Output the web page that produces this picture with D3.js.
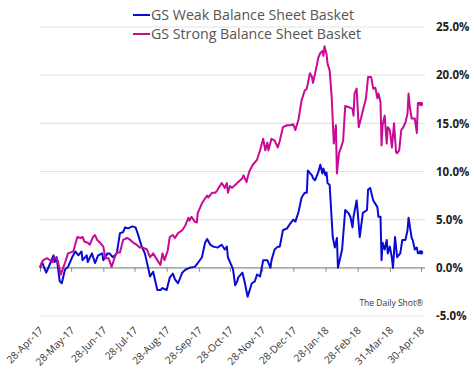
<!DOCTYPE html>
<html lang="en">
<head>
<meta charset="utf-8">
<title>GS balance sheet baskets</title>
<script src="https://cdn.jsdelivr.net/npm/d3@7/dist/d3.min.js"></script>
<style>
  body { margin: 0; background: #fff; }
  text { font-family: "Open Sans", "Liberation Sans", sans-serif; }
</style>
</head>
<body>
<script>
// values, % change since 28-Apr-17
var weak = [
  ["2017-04-28",0],["2017-04-30",0.6],["2017-05-04",-0.5],["2017-05-08",0.5],["2017-05-11",1.3],
  ["2017-05-12",0.6],["2017-05-14",1.1],["2017-05-17",-1.4],["2017-05-19",-1.6],["2017-05-22",-0.2],
  ["2017-05-25",0.1],["2017-05-29",1.1],["2017-06-01",1.7],["2017-06-04",1.3],["2017-06-07",1.7],
  ["2017-06-08",0.8],["2017-06-12",1.3],["2017-06-13",0.6],["2017-06-17",1.5],["2017-06-20",0.5],
  ["2017-06-23",1.3],["2017-06-27",1.5],["2017-06-28",0.8],["2017-07-02",1.5],["2017-07-04",1.5],
  ["2017-07-07",1.1],["2017-07-11",1.5],["2017-07-14",3.6],["2017-07-17",3.7],["2017-07-19",4.2],
  ["2017-07-22",4.1],["2017-07-26",4.3],["2017-07-29",4.2],["2017-07-31",3.6],["2017-08-04",2.2],
  ["2017-08-07",1.5],["2017-08-10",0.1],["2017-08-12",-0.9],["2017-08-15",-0.4],["2017-08-19",-2.3],
  ["2017-08-22",-2.3],["2017-08-24",-2.1],["2017-08-28",-2.3],["2017-08-31",-1.0],["2017-09-03",-0.6],
  ["2017-09-05",-1.2],["2017-09-08",-1.6],["2017-09-12",-0.5],["2017-09-15",-0.2],["2017-09-19",0],
  ["2017-09-24",0.1],["2017-09-27",0.5],["2017-10-01",1.1],["2017-10-04",2.6],["2017-10-06",3.0],
  ["2017-10-09",2.4],["2017-10-12",2.2],["2017-10-16",2.1],["2017-10-20",2.4],["2017-10-23",1.9],
  ["2017-10-25",2.2],["2017-10-26",1.1],["2017-10-30",0.1],["2017-10-31",-0.2],["2017-11-02",-1.8],
  ["2017-11-04",-1.4],["2017-11-05",-1.0],["2017-11-09",-0.5],["2017-11-11",-1.4],["2017-11-14",-3.0],
  ["2017-11-16",-2.3],["2017-11-18",-1.6],["2017-11-21",-1.4],["2017-11-23",-0.7],["2017-11-26",-0.9],
  ["2017-11-29",0.8],["2017-12-03",0.8],["2017-12-06",0],["2017-12-07",0.8],["2017-12-10",1.9],
  ["2017-12-13",2.2],["2017-12-15",2.2],["2017-12-18",3.9],["2017-12-22",4.1],["2017-12-25",4.6],
  ["2017-12-28",5.0],["2017-12-30",4.8],["2018-01-02",5.8],["2018-01-05",7.3],["2018-01-08",7.8],
  ["2018-01-10",7.8],["2018-01-11",10.1],["2018-01-15",9.6],["2018-01-16",9.3],["2018-01-18",9.1],
  ["2018-01-21",9.9],["2018-01-23",10.7],["2018-01-25",9.8],["2018-01-26",10.3],["2018-01-28",9.6],
  ["2018-01-29",9.9],["2018-01-30",8.8],["2018-02-01",8.6],["2018-02-04",3.2],["2018-02-06",2.1],
  ["2018-02-08",3.1],["2018-02-09",0],["2018-02-13",1.9],["2018-02-16",6.0],["2018-02-19",5.7],
  ["2018-02-21",5.3],["2018-02-23",4.2],["2018-02-24",5.3],["2018-02-27",7.0],["2018-02-28",5.8],
  ["2018-03-02",3.2],["2018-03-05",5.7],["2018-03-09",6.0],["2018-03-10",8.1],["2018-03-12",8.3],
  ["2018-03-15",7.0],["2018-03-19",6.3],["2018-03-20",5.3],["2018-03-22",5.3],["2018-03-23",0.8],
  ["2018-03-24",2.6],["2018-03-26",1.9],["2018-03-28",2.9],["2018-03-29",1.5],["2018-03-31",2.2],
  ["2018-04-02",1.0],["2018-04-03",0],["2018-04-05",3.2],["2018-04-07",1.1],["2018-04-10",1.5],
  ["2018-04-12",2.9],["2018-04-15",2.9],["2018-04-17",3.9],["2018-04-18",5.2],["2018-04-21",3.1],
  ["2018-04-22",2.9],["2018-04-24",1.9],["2018-04-26",2.1],["2018-04-27",1.5],["2018-04-29",1.7],
  ["2018-04-30",1.6]
];

var strong = [
  ["2017-04-28",0.1],["2017-05-01",0.8],["2017-05-05",1.0],["2017-05-10",0.6],["2017-05-12",1.1],
  ["2017-05-15",0.8],["2017-05-18",-0.7],["2017-05-22",0.5],["2017-05-25",1.5],["2017-05-30",1.7],
  ["2017-06-03",3.2],["2017-06-06",3.1],["2017-06-08",3.2],["2017-06-10",2.7],["2017-06-13",2.6],
  ["2017-06-15",2.4],["2017-06-18",3.2],["2017-06-20",3.4],["2017-06-22",2.9],["2017-06-25",2.6],
  ["2017-06-28",2.2],["2017-06-30",1.0],["2017-07-03",1.0],["2017-07-06",0.1],["2017-07-09",1.1],
  ["2017-07-11",1.6],["2017-07-14",1.6],["2017-07-17",2.9],["2017-07-21",3.1],["2017-07-24",2.9],
  ["2017-07-27",2.6],["2017-07-30",2.4],["2017-08-02",2.1],["2017-08-05",2.1],["2017-08-09",1.9],
  ["2017-08-12",1.1],["2017-08-15",1.5],["2017-08-19",0.8],["2017-08-22",0.3],["2017-08-24",1.5],
  ["2017-08-26",0.8],["2017-08-29",1.8],["2017-08-31",3.2],["2017-09-03",3.4],["2017-09-05",3.1],
  ["2017-09-08",3.6],["2017-09-12",3.9],["2017-09-15",4.4],["2017-09-18",5.2],["2017-09-19",4.9],
  ["2017-09-21",5.3],["2017-09-24",4.8],["2017-09-26",4.7],["2017-09-27",5.7],["2017-10-01",6.7],
  ["2017-10-04",7.2],["2017-10-06",7.5],["2017-10-07",7.3],["2017-10-11",7.8],["2017-10-14",7.8],
  ["2017-10-16",8.1],["2017-10-20",8.8],["2017-10-23",8.3],["2017-10-25",8.8],["2017-10-26",7.8],
  ["2017-10-28",8.5],["2017-10-30",8.3],["2017-11-02",8.6],["2017-11-05",8.9],["2017-11-09",9.3],
  ["2017-11-10",9.6],["2017-11-13",8.9],["2017-11-14",9.4],["2017-11-16",10.1],["2017-11-19",10.7],
  ["2017-11-23",11.2],["2017-11-26",12.2],["2017-11-29",13.4],["2017-12-01",12.2],["2017-12-03",13.0],
  ["2017-12-04",12.2],["2017-12-07",13.4],["2017-12-10",13.2],["2017-12-13",12.5],["2017-12-15",13.2],
  ["2017-12-18",14.6],["2017-12-22",14.8],["2017-12-25",14.8],["2017-12-28",14.9],["2017-12-30",14.3],
  ["2018-01-02",15.4],["2018-01-05",17.4],["2018-01-08",18.4],["2018-01-10",18.6],["2018-01-13",20.2],
  ["2018-01-15",19.8],["2018-01-16",19.2],["2018-01-20",21.2],["2018-01-21",21.8],["2018-01-23",22.3],
  ["2018-01-25",22.5],["2018-01-26",22.0],["2018-01-27",23.0],["2018-01-29",22.2],["2018-01-30",21.2],
  ["2018-02-01",20.5],["2018-02-03",17.7],["2018-02-05",12.9],["2018-02-07",14.8],["2018-02-08",9.8],
  ["2018-02-10",11.9],["2018-02-12",12.5],["2018-02-14",13.2],["2018-02-16",16.8],["2018-02-19",16.7],
  ["2018-02-23",16.5],["2018-02-24",15.8],["2018-02-25",18.1],["2018-02-27",18.6],["2018-03-01",14.6],
  ["2018-03-05",16.3],["2018-03-08",17.6],["2018-03-10",19.8],["2018-03-13",19.8],["2018-03-15",18.6],
  ["2018-03-17",18.7],["2018-03-19",17.6],["2018-03-20",18.1],["2018-03-22",17.2],["2018-03-23",12.7],
  ["2018-03-24",14.8],["2018-03-26",15.8],["2018-03-28",12.9],["2018-03-29",14.6],["2018-03-31",14.3],
  ["2018-04-02",12.5],["2018-04-04",15.0],["2018-04-06",12.0],["2018-04-07",11.9],["2018-04-09",12.2],
  ["2018-04-11",14.3],["2018-04-13",14.6],["2018-04-15",15.1],["2018-04-17",16.0],["2018-04-18",18.1],
  ["2018-04-19",16.9],["2018-04-21",15.5],["2018-04-24",15.5],["2018-04-26",14.0],["2018-04-27",17.1],
  ["2018-04-29",17.1],["2018-04-30",17.0]
];

var tickDates = ["2017-04-28","2017-05-28","2017-06-28","2017-07-28","2017-08-28","2017-09-28",
  "2017-10-28","2017-11-28","2017-12-28","2018-01-28","2018-02-28","2018-03-31","2018-04-30"];
var yTicks = [-5, 0, 5, 10, 15, 20, 25];
var seriesNames = ["GS Weak Balance Sheet Basket", "GS Strong Balance Sheet Basket"];
var colors = ["#0a0ad6", "#c80a96"];

var width = 474, height = 372;
var margin = {top: 27, right: 53, bottom: 56, left: 40};

var parse = d3.timeParse("%Y-%m-%d");
var fmt = d3.timeFormat("%d-%b-%y");

var svg = d3.select("body").append("svg")
  .attr("width", width)
  .attr("height", height);

var x = d3.scaleTime()
  .domain([parse("2017-04-28"), parse("2018-04-30")])
  .range([margin.left, 421]);
var y = d3.scaleLinear()
  .domain([-5, 25])
  .range([height - margin.bottom, margin.top]);

// gridlines
svg.append("g")
  .selectAll("line")
  .data(yTicks.filter(function(d){ return d != 0; }))
  .enter().append("line")
  .attr("x1", margin.left)
  .attr("x2", width - margin.right + 4)
  .attr("y1", function(d){ return y(d); })
  .attr("y2", function(d){ return y(d); })
  .attr("stroke", "#e3e3e3")
  .attr("stroke-width", 1.2);

// right axis labels
var yAxis = d3.axisRight(y)
  .tickValues(yTicks)
  .tickSize(0)
  .tickPadding(14)
  .tickFormat(function(d){ return d.toFixed(1) + "%"; });
var gy = svg.append("g")
  .attr("transform", "translate(" + (width - margin.right + 1) + ",0)")
  .call(yAxis);
gy.select(".domain").remove();
gy.selectAll("text")
  .attr("font-size", 11.5)
  .attr("font-weight", "bold")
  .attr("fill", "#222");

// zero line with month ticks
var xAxis = d3.axisBottom(x)
  .tickValues(tickDates.map(parse))
  .tickSize(4)
  .tickFormat("");
var gx = svg.append("g")
  .attr("transform", "translate(0," + y(0) + ")")
  .call(xAxis);
gx.select(".domain")
  .attr("d", "M" + margin.left + ",0H" + (width - margin.right + 4))
  .attr("stroke", "#8c8c8c")
  .attr("stroke-width", 1.3);
gx.selectAll(".tick line").attr("stroke", "#8c8c8c");

// date labels below the plot
svg.append("g")
  .selectAll("text")
  .data(tickDates)
  .enter().append("text")
  .attr("transform", function(d){
    return "translate(" + (x(parse(d)) + 4) + "," + (y(-5) + 15) + ") rotate(-45)";
  })
  .attr("text-anchor", "end")
  .attr("font-size", 10.2)
  .attr("fill", "#333")
  .text(function(d){ return fmt(parse(d)); });

var line = d3.line()
  .x(function(d){ return x(parse(d[0])); })
  .y(function(d){ return y(d[1]); });

[weak, strong].forEach(function(s, i){
  svg.append("path")
    .datum(s)
    .attr("fill", "none")
    .attr("stroke", colors[i])
    .attr("stroke-width", 2)
    .attr("stroke-linejoin", "round")
    .attr("d", line);
  var last = s[s.length - 1];
  svg.append("circle")
    .attr("cx", x(parse(last[0])))
    .attr("cy", y(last[1]))
    .attr("r", 2.2)
    .attr("fill", colors[i]);
});

// legend
var legend = svg.append("g").attr("transform", "translate(133,15)");
seriesNames.forEach(function(name, i){
  var g = legend.append("g").attr("transform", "translate(0," + (i * 19) + ")");
  g.append("line")
    .attr("x1", 0).attr("x2", 17)
    .attr("stroke", colors[i])
    .attr("stroke-width", 2);
  g.append("text")
    .attr("x", 18)
    .attr("dy", "0.35em")
    .attr("font-size", 14.2)
    .attr("fill", "#555")
    .text(name);
});

svg.append("text")
  .attr("x", 423)
  .attr("y", y(-5) - 10)
  .attr("text-anchor", "end")
  .attr("font-size", 8.5)
  .attr("fill", "#333")
  .text("The Daily Shot\u00ae");
</script>
</body>
</html>
